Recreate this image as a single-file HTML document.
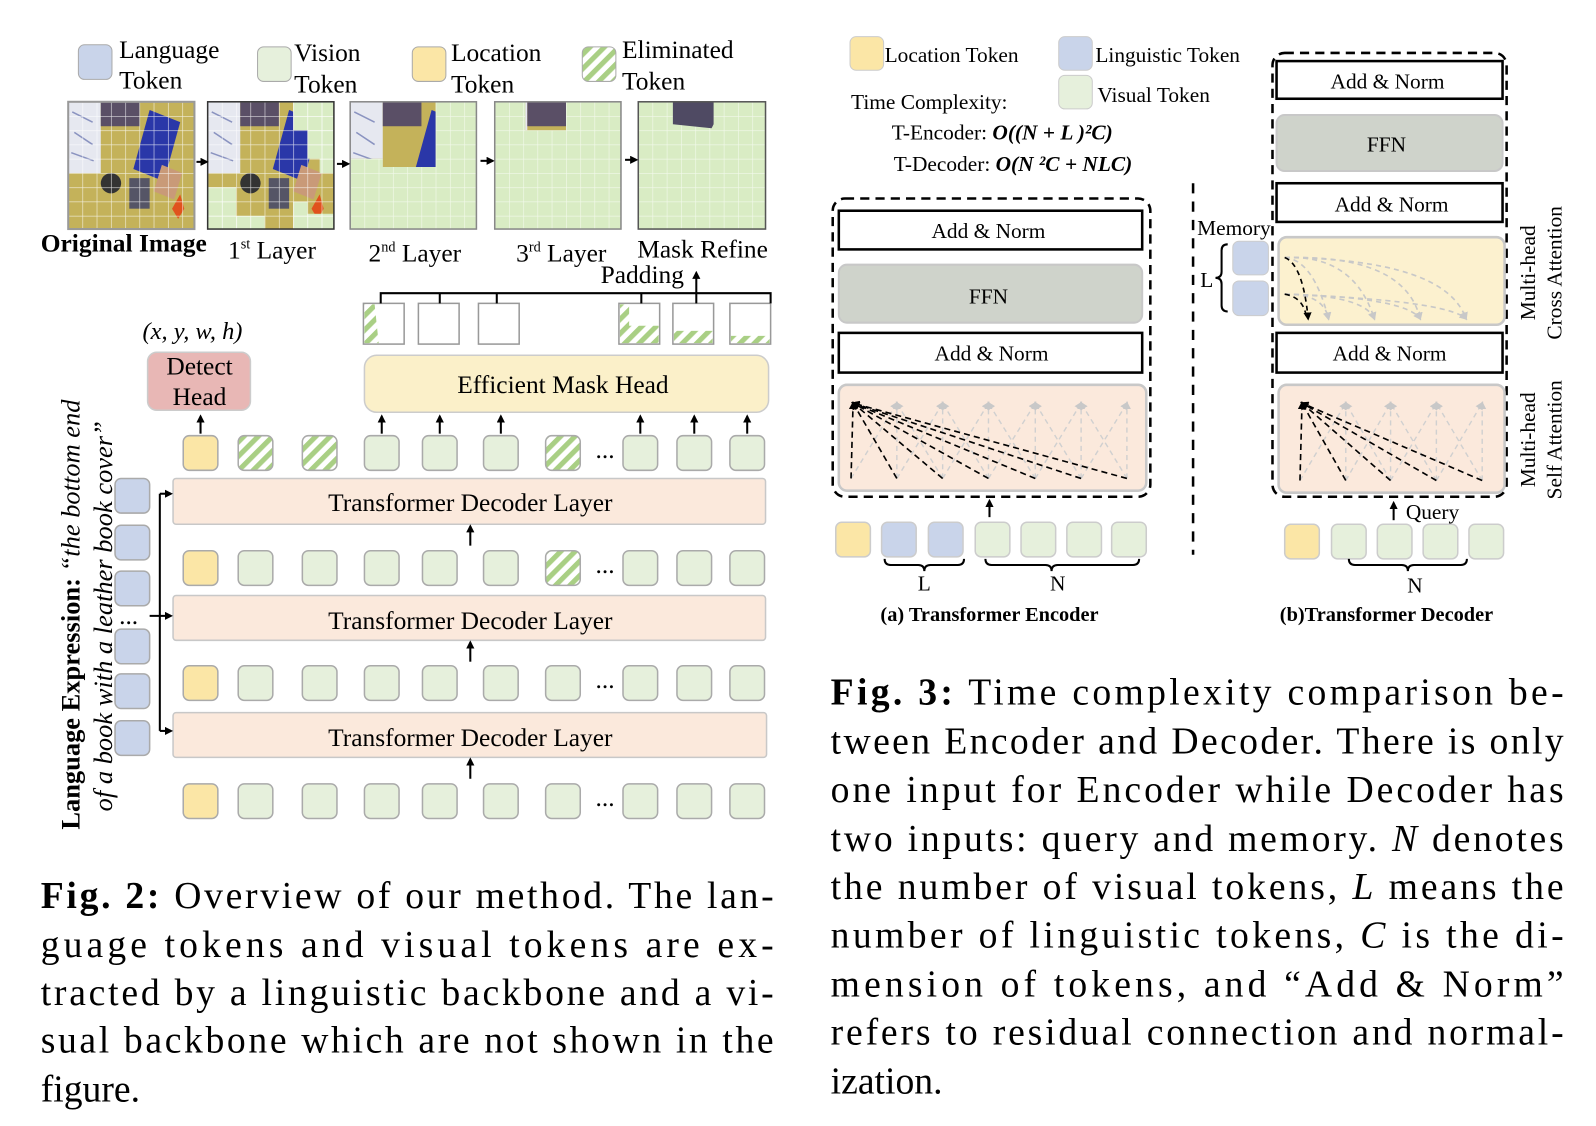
<!DOCTYPE html>
<html><head><meta charset="utf-8">
<style>
html,body{margin:0;padding:0;background:#fff;}
svg{display:block;}
text{font-family:"Liberation Serif",serif;fill:#000;}
</style></head>
<body>
<svg id="s" width="1596" height="1126" viewBox="0 0 1567.8 1106.1" preserveAspectRatio="none" xmlns="http://www.w3.org/2000/svg">
<defs>
<pattern id="hatch" patternUnits="userSpaceOnUse" width="10" height="10" patternTransform="rotate(45)">
<rect width="10" height="10" fill="#ffffff"/><rect width="5" height="10" fill="#a9cf84"/></pattern>
<pattern id="grid" patternUnits="userSpaceOnUse" width="14" height="14">
<rect width="14" height="14" fill="#d9ecc4"/><path d="M0 0H14M0 0V14" stroke="#f3f9ec" stroke-width="1.2"/></pattern>
<pattern id="wgrid" patternUnits="userSpaceOnUse" width="14" height="14">
<path d="M0 0H14M0 0V14" stroke="rgba(255,255,255,0.8)" stroke-width="1.2"/></pattern>
<marker id="ah" markerWidth="8" markerHeight="8" refX="6" refY="4" orient="auto" markerUnits="userSpaceOnUse"><path d="M0 0L8 4L0 8z" fill="#000"/></marker>
<marker id="ahg" markerWidth="8" markerHeight="8" refX="6" refY="4" orient="auto" markerUnits="userSpaceOnUse"><path d="M0 0L8 4L0 8z" fill="#c8c8c8"/></marker>
<g id="photo">
<rect width="124" height="125" fill="#c4b25a"/>
<rect x="0" y="0" width="32" height="70" fill="#e6e8f0"/>
<path d="M4 10l20 10M6 30l18 12M3 50l22 8" stroke="#8a93c0" stroke-width="1.5"/>
<rect x="32" y="0" width="38" height="24" fill="#5a4f66"/>
<path d="M80 8l30 12-16 58-30-12z" fill="#2a37a8"/>
<path d="M92 62l20 8-8 26-20-8z" fill="#c99a78"/>
<ellipse cx="42" cy="80" rx="10" ry="10" fill="#333"/>
<rect x="60" y="75" width="20" height="30" fill="#556"/>
<path d="M102 105l8-14 4 14-6 10z" fill="#e0521d"/>
</g>
<clipPath id="c1b"><path d="M0 0H84V28H98V56H110V70H124V110H98V98H84V125H56V112H28V84H0z"/></clipPath>
<clipPath id="c2"><path d="M0 0H84V64H32V56H0z"/></clipPath>
<clipPath id="c3"><path d="M30 0H70V28H30z"/></clipPath>
</defs>

<!-- Fig2 legend -->
<rect x="77" y="44" width="33" height="34" rx="6" fill="#c9d4ea" stroke="#aaa"/>
<text x="117" y="57" font-size="25">Language</text><text x="117" y="87" font-size="25">Token</text>
<rect x="253" y="46" width="33" height="34" rx="6" fill="#e6f0dc" stroke="#aaa"/>
<text x="289" y="60" font-size="25">Vision</text><text x="289" y="91" font-size="25">Token</text>
<rect x="405" y="46" width="33" height="34" rx="6" fill="#fbe6a6" stroke="#aaa"/>
<text x="443" y="60" font-size="25">Location</text><text x="443" y="91" font-size="25">Token</text>
<rect x="572" y="46" width="33" height="34" rx="6" fill="url(#hatch)" stroke="#aaa"/>
<text x="611" y="57" font-size="25">Eliminated</text><text x="611" y="88" font-size="25">Token</text>

<!-- images -->
<g transform="translate(67,100)"><use href="#photo"/><rect width="124" height="125" fill="url(#wgrid)"/><rect width="124" height="125" fill="none" stroke="#999" stroke-width="2"/></g>
<g transform="translate(204,100)"><rect width="124" height="125" fill="url(#grid)"/><g clip-path="url(#c1b)"><use href="#photo"/></g><rect width="124" height="125" fill="url(#wgrid)"/><rect width="124" height="125" fill="none" stroke="#333" stroke-width="1.5"/></g>
<g transform="translate(344,100)"><rect width="124" height="125" fill="url(#grid)"/><g clip-path="url(#c2)"><use href="#photo"/></g><rect width="124" height="125" fill="none" stroke="#888" stroke-width="1.5"/></g>
<g transform="translate(486,100)"><rect width="124" height="125" fill="url(#grid)"/><g clip-path="url(#c3)"><use href="#photo"/></g><rect width="124" height="125" fill="none" stroke="#888" stroke-width="1.5"/></g>
<g transform="translate(627,100)"><rect width="125" height="125" fill="url(#grid)"/><path d="M34 0H74V22L72 26L34 22z" fill="#4f4a63"/><rect width="125" height="125" fill="none" stroke="#555" stroke-width="1.5"/></g>
<g stroke="#000" stroke-width="2" marker-end="url(#ah)">
<line x1="193" y1="159" x2="203" y2="159"/><line x1="331" y1="161" x2="342" y2="161"/><line x1="472" y1="158" x2="484" y2="158"/><line x1="614" y1="157" x2="625" y2="157"/></g>
<text x="40" y="247" font-size="25" font-weight="bold">Original Image</text>
<text x="224" y="254" font-size="25">1<tspan font-size="14" dy="-10">st</tspan><tspan dy="10"> Layer</tspan></text>
<text x="362" y="257" font-size="25">2<tspan font-size="14" dy="-10">nd</tspan><tspan dy="10"> Layer</tspan></text>
<text x="507" y="257" font-size="25">3<tspan font-size="14" dy="-10">rd</tspan><tspan dy="10"> Layer</tspan></text>
<text x="626" y="253" font-size="25">Mask Refine</text>
<text x="590" y="278" font-size="25">Padding</text>

<!-- small mask boxes -->
<g stroke="#999" stroke-width="1.5">
<rect x="357" y="298" width="40" height="40" fill="#fff"/>
<rect x="411" y="298" width="40" height="40" fill="#fff"/>
<rect x="470" y="298" width="40" height="40" fill="#fff"/>
<rect x="608" y="298" width="40" height="40" fill="#fff"/>
<rect x="661" y="298" width="40" height="40" fill="#fff"/>
<rect x="717" y="298" width="40" height="40" fill="#fff"/></g>
<path d="M358 299H368L372 337H358z" fill="url(#hatch)"/>
<path d="M609 299H618V320H647V337H609z" fill="url(#hatch)"/>
<rect x="662" y="325" width="38" height="12" fill="url(#hatch)"/>
<path d="M718 330H756V318V337H718z" fill="url(#hatch)"/>
<g stroke="#000" stroke-width="2" fill="none">
<path d="M374 298V288H757V298M432 288V298M488 288V298M630 288V298"/>
<line x1="684" y1="298" x2="684" y2="268" marker-end="url(#ah)"/></g>

<!-- heads -->
<text x="140" y="333" font-size="24" font-style="italic">(x, y, w, h)</text>
<rect x="145" y="346" width="101" height="57" rx="9" fill="#e8b7b5" stroke="#ccc" stroke-width="1.5"/>
<text x="196" y="368" font-size="25" text-anchor="middle">Detect</text><text x="196" y="398" font-size="25" text-anchor="middle">Head</text>
<rect x="358" y="349" width="397" height="56" rx="12" fill="#fbf0c9" stroke="#ccc" stroke-width="1.5"/>
<text x="553" y="386" font-size="25" text-anchor="middle">Efficient Mask Head</text>

<!-- decoder layers -->
<g fill="#fbe9dc" stroke="#c8c8c8" stroke-width="1.5">
<rect x="170" y="470" width="582" height="45" rx="3"/><rect x="170" y="585" width="582" height="44" rx="3"/><rect x="170" y="700" width="583" height="44" rx="3"/></g>
<text x="462" y="502" font-size="25" text-anchor="middle">Transformer Decoder Layer</text>
<text x="462" y="618" font-size="25" text-anchor="middle">Transformer Decoder Layer</text>
<text x="462" y="733" font-size="25" text-anchor="middle">Transformer Decoder Layer</text>
<g id="tok"></g>
<g font-size="25"><text x="585" y="450">...</text><text x="585" y="563">...</text><text x="585" y="676">...</text><text x="585" y="792">...</text><text x="117" y="613">...</text></g>
<g stroke="#000" stroke-width="2" fill="none">
<path d="M157 485V718"/>
<line x1="157" y1="485" x2="168" y2="485" marker-end="url(#ah)"/>
<line x1="147" y1="605" x2="168" y2="605" marker-end="url(#ah)"/>
<line x1="157" y1="718" x2="168" y2="718" marker-end="url(#ah)"/>
<line x1="462" y1="536" x2="462" y2="517" marker-end="url(#ah)"/>
<line x1="462" y1="650" x2="462" y2="631" marker-end="url(#ah)"/>
<line x1="462" y1="765" x2="462" y2="746" marker-end="url(#ah)"/>
</g>
<text transform="translate(78,815) rotate(-90)" font-size="26"><tspan font-weight="bold">Language Expression:</tspan><tspan font-style="italic"> “the bottom end</tspan></text>
<text transform="translate(110,797) rotate(-90)" font-size="26" font-style="italic">of a book with a leather book cover”</text>

<!-- Fig 2 caption -->
<g font-size="37">
<text x="40" y="892" textLength="720" lengthAdjust="spacing"><tspan font-weight="bold">Fig. 2:</tspan> Overview of our method. The lan-</text>
<text x="40" y="940" textLength="720" lengthAdjust="spacing">guage tokens and visual tokens are ex-</text>
<text x="40" y="987" textLength="720" lengthAdjust="spacing">tracted by a linguistic backbone and a vi-</text>
<text x="40" y="1034" textLength="720" lengthAdjust="spacing">sual backbone which are not shown in the</text>
<text x="40" y="1082">figure.</text>
</g>

<!-- Fig 3 legend -->
<rect x="835" y="36" width="33" height="33" rx="6" fill="#fbe6a6" stroke="#ccc"/>
<text x="869" y="61" font-size="21">Location Token</text>
<rect x="1040" y="36" width="33" height="33" rx="6" fill="#c9d4ea" stroke="#ccc"/>
<text x="1076" y="61" font-size="21">Linguistic Token</text>
<rect x="1040" y="74" width="33" height="33" rx="6" fill="#e6f0dc" stroke="#ccc"/>
<text x="1078" y="100" font-size="21">Visual Token</text>
<text x="836" y="107" font-size="21">Time Complexity:</text>
<text x="876" y="137" font-size="21">T-Encoder: <tspan font-weight="bold" font-style="italic">O((N + L )²C)</tspan></text>
<text x="878" y="168" font-size="21">T-Decoder: <tspan font-weight="bold" font-style="italic">O(N ²C + NLC)</tspan></text>

<!-- encoder -->
<rect x="818" y="195" width="312" height="293" rx="12" fill="none" stroke="#000" stroke-width="2.5" stroke-dasharray="9,6"/>
<rect x="824" y="207" width="298" height="38" fill="#fff" stroke="#000" stroke-width="2.5"/>
<text x="971" y="234" font-size="21" text-anchor="middle">Add &amp; Norm</text>
<rect x="824" y="260" width="298" height="57" rx="8" fill="#cfd3cb" stroke="#c8c8c8" stroke-width="2"/>
<text x="971" y="298" font-size="21" text-anchor="middle">FFN</text>
<rect x="824" y="327" width="298" height="39" fill="#fff" stroke="#000" stroke-width="2.5"/>
<text x="974" y="354" font-size="21" text-anchor="middle">Add &amp; Norm</text>
<rect x="824" y="378" width="302" height="104" rx="8" fill="#fbe9dc" stroke="#c8c8c8" stroke-width="2.5"/>
<g id="encatt"></g>
<line x1="972" y1="508" x2="972" y2="492" stroke="#000" stroke-width="2" marker-end="url(#ah)"/>
<g stroke="#000" stroke-width="2" fill="none">
<path d="M869 549q0 6 6 6h27q6 0 6 6q0-6 6-6h27q6 0 6-6"/>
<path d="M968 549q0 6 6 6h53q6 0 6 6q0-6 6-6h74q6 0 6-6"/>
<path d="M1325 549q0 6 6 6h46q6 0 6 6q0-6 6-6h46q6 0 6-6"/>
</g>
<text x="908" y="580" font-size="21" text-anchor="middle">L</text>
<text x="1039" y="580" font-size="21" text-anchor="middle">N</text>
<text x="1390" y="582" font-size="21" text-anchor="middle">N</text>
<text x="972" y="610" font-size="20" font-weight="bold" text-anchor="middle">(a) Transformer Encoder</text>
<text x="1362" y="610" font-size="20" font-weight="bold" text-anchor="middle">(b)Transformer Decoder</text>
<line x1="1172" y1="180" x2="1172" y2="545" stroke="#000" stroke-width="2.5" stroke-dasharray="10,8"/>

<!-- decoder -->
<rect x="1250" y="52" width="230" height="436" rx="12" fill="none" stroke="#000" stroke-width="2.5" stroke-dasharray="9,6"/>
<rect x="1254" y="60" width="222" height="37" fill="#fff" stroke="#000" stroke-width="2.5"/>
<text x="1363" y="87" font-size="21" text-anchor="middle">Add &amp; Norm</text>
<rect x="1254" y="113" width="222" height="55" rx="8" fill="#cfd3cb" stroke="#c8c8c8" stroke-width="2"/>
<text x="1362" y="149" font-size="21" text-anchor="middle">FFN</text>
<rect x="1254" y="180" width="222" height="38" fill="#fff" stroke="#000" stroke-width="2.5"/>
<text x="1367" y="208" font-size="21" text-anchor="middle">Add &amp; Norm</text>
<rect x="1256" y="233" width="222" height="86" rx="8" fill="#fcf1cf" stroke="#c8c8c8" stroke-width="2.5"/>
<g fill="none" stroke-width="1.6" stroke-dasharray="5,4">
<g stroke="#c8c8c8">
<path d="M1262 253Q1330 250 1350 313" marker-end="url(#ahg)"/><path d="M1262 253Q1380 250 1395 313" marker-end="url(#ahg)"/><path d="M1262 253Q1420 255 1440 313" marker-end="url(#ahg)"/><path d="M1262 253Q1290 255 1305 313" marker-end="url(#ahg)"/>
<path d="M1262 289Q1300 288 1305 313" marker-end="url(#ahg)"/><path d="M1262 289Q1340 290 1350 313" marker-end="url(#ahg)"/><path d="M1262 289Q1380 292 1395 313" marker-end="url(#ahg)"/><path d="M1262 289Q1420 295 1440 313" marker-end="url(#ahg)"/></g>
<g stroke="#000"><path d="M1262 253Q1280 260 1285 313" marker-end="url(#ah)"/><path d="M1262 289Q1280 292 1283 310"/></g>
</g>
<rect x="1254" y="327" width="222" height="39" fill="#fff" stroke="#000" stroke-width="2.5"/>
<text x="1365" y="354" font-size="21" text-anchor="middle">Add &amp; Norm</text>
<rect x="1256" y="378" width="222" height="106" rx="8" fill="#fbe9dc" stroke="#c8c8c8" stroke-width="2.5"/>
<g id="decatt"></g>
<text x="1176" y="231" font-size="21">Memory</text>
<text x="1179" y="282" font-size="21">L</text>
<path d="M1206 240q-6 0-6 6v21q0 6-6 6q6 0 6 6v21q0 6 6 6" fill="none" stroke="#000" stroke-width="2"/>
<rect x="1211" y="237" width="35" height="33" rx="6" fill="#c9d4ea" stroke="#ccc"/>
<rect x="1211" y="276" width="35" height="34" rx="6" fill="#c9d4ea" stroke="#ccc"/>
<line x1="1369" y1="511" x2="1369" y2="494" stroke="#000" stroke-width="2" marker-end="url(#ah)"/>
<text x="1381" y="510" font-size="21">Query</text>
<text transform="translate(1508,268) rotate(-90)" font-size="21" text-anchor="middle">Multi-head</text>
<text transform="translate(1534,268) rotate(-90)" font-size="21" text-anchor="middle">Cross Attention</text>
<text transform="translate(1508,432) rotate(-90)" font-size="21" text-anchor="middle">Multi-head</text>
<text transform="translate(1534,432) rotate(-90)" font-size="21" text-anchor="middle">Self Attention</text>

<!-- Fig 3 caption -->
<g font-size="37">
<text x="816" y="692" textLength="720" lengthAdjust="spacing"><tspan font-weight="bold">Fig. 3:</tspan> Time complexity comparison be-</text>
<text x="816" y="740" textLength="720" lengthAdjust="spacing">tween Encoder and Decoder. There is only</text>
<text x="816" y="788" textLength="720" lengthAdjust="spacing">one input for Encoder while Decoder has</text>
<text x="816" y="836" textLength="720" lengthAdjust="spacing">two inputs: query and memory. <tspan font-style="italic">N</tspan> denotes</text>
<text x="816" y="883" textLength="720" lengthAdjust="spacing">the number of visual tokens, <tspan font-style="italic">L</tspan> means the</text>
<text x="816" y="931" textLength="720" lengthAdjust="spacing">number of linguistic tokens, <tspan font-style="italic">C</tspan> is the di-</text>
<text x="816" y="979" textLength="720" lengthAdjust="spacing">mension of tokens, and “Add &amp; Norm”</text>
<text x="816" y="1026" textLength="720" lengthAdjust="spacing">refers to residual connection and normal-</text>
<text x="816" y="1074">ization.</text>
</g>
</svg>
<script>
var NS="http://www.w3.org/2000/svg";
function R(p,a){var e=document.createElementNS(NS,"rect");for(var k in a)e.setAttribute(k,a[k]);p.appendChild(e);return e;}
function L(p,a){var e=document.createElementNS(NS,"line");for(var k in a)e.setAttribute(k,a[k]);p.appendChild(e);return e;}
var tok=document.getElementById("tok");
var cols=[180,234,297,358,415,475,536,612,665,717],rows=[428,541,654,770];
var hatched={"0_1":1,"0_2":1,"0_6":1,"1_6":1};
rows.forEach(function(y,r){cols.forEach(function(x,c){
 var f=c==0?"#fbe6a6":(hatched[r+"_"+c]?"url(#hatch)":"#e6f0dc");
 R(tok,{x:x,y:y,width:34,height:34,rx:6,fill:f,stroke:"#aaa","stroke-width":1.5});});});
[470,516,561,618,662,708].forEach(function(y){R(tok,{x:113,y:y,width:34,height:34,rx:6,fill:"#c9d4ea",stroke:"#aaa","stroke-width":1.5});});
[197,375,432,492,629,682,734].forEach(function(x){L(tok,{x1:x,y1:426,x2:x,y2:409,stroke:"#000","stroke-width":2,"marker-end":"url(#ah)"});});
var ec=["#fbe6a6","#c9d4ea","#c9d4ea","#e6f0dc","#e6f0dc","#e6f0dc","#e6f0dc"],ex=[821,866,912,958,1003,1048,1092];
ex.forEach(function(x,i){R(tok,{x:x,y:513,width:34,height:34,rx:6,fill:ec[i],stroke:"#ccc","stroke-width":1.5});});
var dc=["#fbe6a6","#e6f0dc","#e6f0dc","#e6f0dc","#e6f0dc"],dx=[1262,1308,1353,1398,1443];
dx.forEach(function(x,i){R(tok,{x:x,y:515,width:34,height:34,rx:6,fill:dc[i],stroke:"#ccc","stroke-width":1.5});});
function att(g,xs,top,bot){
 g=document.getElementById(g);
 for(var i=1;i<xs.length;i++)for(var j=0;j<xs.length;j++){if(Math.abs(i-j)<=1)L(g,{x1:xs[j],y1:bot,x2:xs[i],y2:top+2,stroke:"#d0d0d0","stroke-width":1.4,"stroke-dasharray":"5,4","marker-end":"url(#ahg)"});}
 for(var j=0;j<xs.length;j++)L(g,{x1:xs[j],y1:bot,x2:xs[0]+2,y2:top+2,stroke:"#000","stroke-width":1.6,"stroke-dasharray":"6,4","marker-end":"url(#ah)"});
}
att("encatt",[836,881,926,971,1017,1062,1107],394,470);
att("decatt",[1277,1322,1366,1411,1456],394,472);
</script>
</body></html>
